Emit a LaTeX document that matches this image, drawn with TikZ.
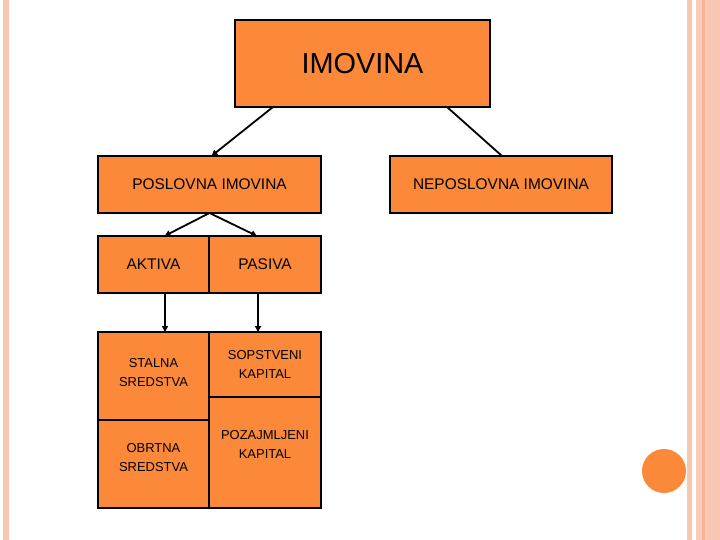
\documentclass[tikz,border=0pt]{standalone}
\usepackage{fontspec}
\setmainfont{Liberation Sans}
\usetikzlibrary{arrows.meta,calc}
\definecolor{boxorange}{RGB}{252,137,58}
\definecolor{stripe}{RGB}{249,198,180}
\definecolor{stripedark}{RGB}{244,178,154}
\definecolor{stripeband}{RGB}{251,203,186}
\tikzset{
  box/.style={draw=black, line width=2.2bp, fill=boxorange, inner sep=0pt, outer sep=0pt},
  midtext/.style={font=\fontsize{15.5}{18}\selectfont},
  smalltext/.style={font=\fontsize{13}{19}\selectfont, align=center},
  conn/.style={line width=1.8bp, -{Triangle[length=6bp,width=6bp]}},
  line/.style={line width=1.8bp}
}
\begin{document}
\begin{tikzpicture}[x=1bp,y=-1bp]
\useasboundingbox (0,0) rectangle (720,540);
\fill[white] (0,0) rectangle (720,540);
% decorative stripes
\fill[stripe] (3,0) rectangle (9,540);
\fill[stripe] (687,0) rectangle (692,540);
\fill[stripeband] (696,0) rectangle (720,540);
\fill[stripedark] (702,0) rectangle (705,540);
\fill[stripe] (707,0) rectangle (720,540);
% circle
\fill[boxorange] (664,471) circle (22);
% boxes
\node[box, minimum width=255bp, minimum height=87bp, font=\fontsize{29}{32}\selectfont] (imo) at (362.5,63.5) {IMOVINA};
\node[box, midtext, minimum width=223bp, minimum height=57bp] (posl) at (209.5,184.5) {POSLOVNA IMOVINA};
\node[box, midtext, minimum width=222bp, minimum height=57bp] (nepo) at (501,184.5) {NEPOSLOVNA IMOVINA};
\node[box, midtext, minimum width=111bp, minimum height=57bp] (akt) at (153.5,264.5) {AKTIVA};
\node[box, midtext, minimum width=112bp, minimum height=57bp] (pas) at (265,264.5) {PASIVA};
\node[box, minimum width=111bp, minimum height=88bp] (stal) at (153.5,376) {};
\node[box, minimum width=111bp, minimum height=88bp] (obrt) at (153.5,464) {};
\node[box, minimum width=112bp, minimum height=65bp] (sops) at (265,364.5) {};
\node[box, minimum width=112bp, minimum height=111bp] (poza) at (265,452.5) {};
% texts
\node[smalltext] (stalt) at ($(stal.center)+(0,-3)$) {STALNA\\SREDSTVA};
\node[smalltext] (obrtt) at ($(obrt.center)+(0,-6)$) {OBRTNA\\SREDSTVA};
\node[smalltext] (sopst) at (sops.center) {SOPSTVENI\\KAPITAL};
\node[smalltext] (pozat) at ($(poza.center)+(0,-8)$) {POZAJMLJENI\\KAPITAL};
% connectors
\draw[conn] ($(imo.south west)+(38,0)$) -- ($(posl.north)+(2,0)$);
\draw[line] ($(imo.south west)+(212,0)$) -- ($(nepo.north)+(1,0)$);
\draw[conn] (posl.south) -- ($(akt.north)+(11,0)$);
\draw[conn] (posl.south) -- ($(pas.north)+(-8,0)$);
\draw[conn] ($(akt.south)+(11.5,0)$) -- ($(stal.north)+(11.5,0)$);
\draw[conn] ($(pas.south)+(-7,0)$) -- ($(sops.north)+(-7,0)$);
\end{tikzpicture}
\end{document}
